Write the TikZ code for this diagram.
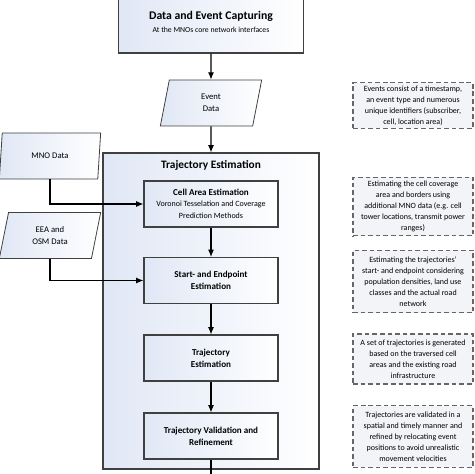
\documentclass[tikz,border=0pt]{standalone}
\usepackage{fontspec}
\setmainfont{Carlito}
\usetikzlibrary{shapes.geometric, arrows.meta, positioning, calc}
\definecolor{boxblue}{RGB}{224,231,245}
\definecolor{notefill}{RGB}{243,244,248}
\definecolor{framegray}{RGB}{64,64,64}
\tikzset{
    process/.style={rectangle, draw=framegray, line width=0.8pt, left color=boxblue, right color=white, minimum width=100.5pt, minimum height=34.5pt, align=center, inner sep=1pt, font=\fontsize{6.8}{9}\selectfont\bfseries},
    iodata/.style={trapezium, trapezium left angle=63, trapezium right angle=117, trapezium stretches body=true, draw=framegray, line width=0.6pt, left color=boxblue, right color=white, minimum width=76pt, minimum height=34.5pt, align=center, inner sep=0pt, font=\fontsize{6.5}{9}\selectfont},
    container/.style={rectangle, draw=framegray, line width=0.8pt, left color=boxblue, right color=white, minimum width=162pt, minimum height=237pt},
    note/.style={rectangle, draw=framegray!80, dash pattern=on 3.5pt off 2.2pt, line width=0.8pt, fill=notefill, minimum width=90pt, inner sep=1.5pt, align=center, font=\fontsize{6}{8.2}\selectfont},
    arrow/.style={line width=0.8pt, -{Latex[length=5.5pt, width=4.5pt]}}
}
\newcommand{\subline}{\fontsize{6}{8.2}\selectfont\mdseries}
\begin{document}
\begin{tikzpicture}[x=0.75pt, y=0.75pt]
    \useasboundingbox (0,0) rectangle (474,-474);
    % main column
    \node (capture) [process, minimum width=139pt, minimum height=46.5pt, font=\fontsize{8.8}{11}\selectfont\bfseries] at (211,-22) {Data and Event Capturing\\[-1pt]\fontsize{5.8}{8}\selectfont\mdseries At the MNOs core network interfaces};
    \node (event) [iodata] at (211,-103) {Event\\Data};
    \node (traj) [container] at (211,-311) {};
    \node (trajtitle) [font=\fontsize{8.5}{10}\selectfont\bfseries] at (211,-165) {Trajectory Estimation};
    \node (cell) [process] at (211,-204) {Cell Area Estimation\\[-1pt]\subline Voronoi Tesselation and Coverage\\ \subline Prediction Methods};
    \node (start) [process] at (211,-280.5) {Start- and Endpoint\\Estimation};
    \node (trajest) [process] at (211,-358) {Trajectory\\Estimation};
    \node (valid) [process] at (211,-436) {Trajectory Validation and\\Refinement};
    \coordinate (exit) at (211,-490);
    % input data
    \node (mno) [iodata] at (50,-156) {MNO Data};
    \node (eea) [iodata] at (50,-235.5) {EEA and\\OSM Data};
    % notes
    \node (n1) [note, minimum height=34pt] at (413,-105.5) {Events consist of a timestamp,\\an event type and numerous\\unique identifiers (subscriber,\\cell, location area)};
    \node (n2) [note, minimum height=44pt] at (413,-206.5) {Estimating the cell coverage\\area and borders using\\additional MNO data (e.g. cell\\tower locations, transmit power\\ranges)};
    \node (n3) [note, minimum height=47pt] at (413,-281.5) {Estimating the trajectories'\\start- and endpoint considering\\population densities, land use\\classes and the actual road\\network};
    \node (n4) [note, minimum height=37.5pt] at (413,-359) {A set of trajectories is generated\\based on the traversed cell\\areas and the existing road\\infrastructure};
    \node (n5) [note, minimum height=46pt] at (413,-436.5) {Trajectories are validated in a\\spatial and timely manner and\\refined by relocating event\\positions to avoid unrealistic\\movement velocities};
    % connectors
    \draw [arrow] (capture) -- (event);
    \draw [arrow] (event) -- (traj);
    \draw [arrow] (cell) -- (start);
    \draw [arrow] (start) -- (trajest);
    \draw [arrow] (trajest) -- (valid);
    \draw [line width=0.8pt] (valid) -- (exit);
    \draw [arrow] (mno.south) |- (cell.west);
    \draw [arrow] (eea.south) |- (start.west);
\end{tikzpicture}
\end{document}
